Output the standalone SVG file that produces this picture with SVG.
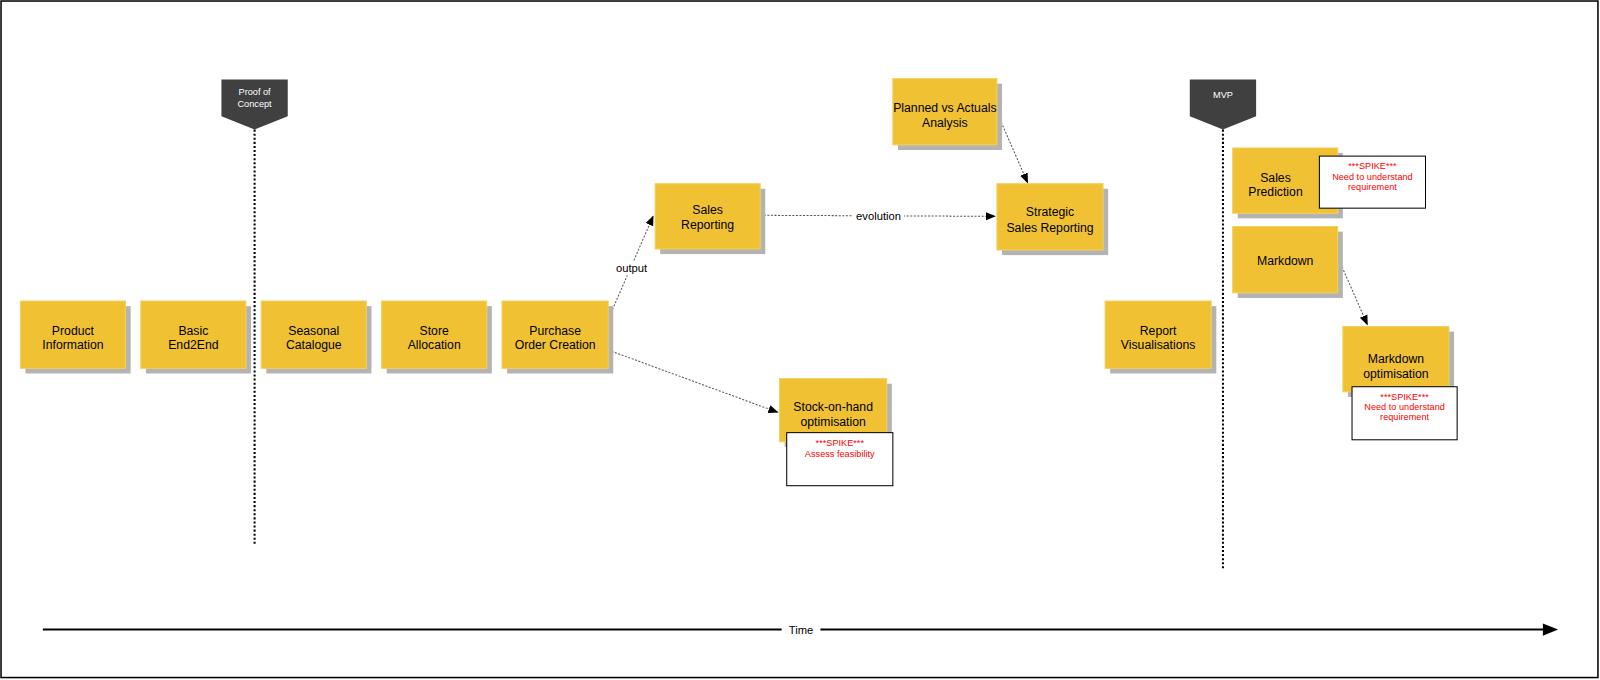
<svg xmlns="http://www.w3.org/2000/svg" width="1600" height="680" viewBox="0 0 1600 680">
<defs>
<marker id="ah" markerWidth="10" markerHeight="10" refX="9" refY="5" orient="auto" markerUnits="userSpaceOnUse"><path d="M0,1 L10,5 L0,9 Z" fill="#000"/></marker>
<style>
.n{fill:#F0C233;stroke:#F5D060;stroke-width:1}
.sh{fill:#B3B3B3}
.t{font-family:"Liberation Sans",Arial,sans-serif;font-size:12px;fill:#000;text-anchor:middle}
.s{font-family:"Liberation Sans",Arial,sans-serif;font-size:9px;fill:#FF0000;text-anchor:middle}
.sp{fill:#fff;stroke:#000;stroke-width:1}
.c{fill:none;stroke:#555;stroke-width:1;stroke-dasharray:2,1.5;marker-end:url(#ah)}
.ms{fill:#404040}
.mt{font-family:"Liberation Sans",Arial,sans-serif;font-size:9px;fill:#fff;text-anchor:middle}
.dl{stroke:#000;stroke-width:2;stroke-dasharray:2,2}
.lb{font-family:"Liberation Sans",Arial,sans-serif;font-size:11px;fill:#000;text-anchor:middle}
</style>
</defs>
<rect x="0" y="0" width="1600" height="680" fill="#fff"/>
<g transform="scale(1.0204)">
<rect x="1" y="1" width="1565" height="663" fill="none" stroke="#000" stroke-width="1.5"/>
<g id="poc"><path class="ms" d="M217,78 H282 V114 L249.5,127 L217,114 Z"/><text class="mt" x="249.5" y="93">Proof of</text><text class="mt" x="249.5" y="105">Concept</text><line class="dl" x1="249.5" y1="127" x2="249.5" y2="535"/></g>
<g id="mvp"><path class="ms" d="M1166,78 H1231 V114 L1198.5,127 L1166,114 Z"/><text class="mt" x="1198.5" y="96">MVP</text><line class="dl" x1="1198.5" y1="127" x2="1198.5" y2="557"/></g>
<g id="time"><line x1="42" y1="617" x2="1515" y2="617" stroke="#000" stroke-width="2"/><path d="M1512,611 L1527,617 L1512,623 Z" fill="#000"/><rect x="766" y="609" width="38" height="16" fill="#fff"/><text class="lb" x="785" y="621">Time</text></g>
<g id="connectors">
<path class="c" d="M596,313 L640,212"/>
<path class="c" d="M596,343 L762,404"/>
<path class="c" d="M745,211 L975,212"/>
<path class="c" d="M977,110 L1007,179"/>
<path class="c" d="M1311,252 L1340,318"/>
<rect x="602" y="256" width="34" height="14" fill="#fff"/><text class="lb" x="619" y="267">output</text>
<rect x="836" y="205" width="50" height="14" fill="#fff"/><text class="lb" x="861" y="216">evolution</text>
</g>
<g id="product"><rect class="sh" x="25" y="300" width="103" height="66"/><rect class="n" x="20" y="295" width="103" height="66"/><text class="t" x="71.5" y="328">Product</text><text class="t" x="71.5" y="342">Information</text></g>
<g id="basic"><rect class="sh" x="143" y="300" width="103" height="66"/><rect class="n" x="138" y="295" width="103" height="66"/><text class="t" x="189.5" y="328">Basic</text><text class="t" x="189.5" y="342">End2End</text></g>
<g id="seasonal"><rect class="sh" x="261" y="300" width="103" height="66"/><rect class="n" x="256" y="295" width="103" height="66"/><text class="t" x="307.5" y="328">Seasonal</text><text class="t" x="307.5" y="342">Catalogue</text></g>
<g id="store"><rect class="sh" x="379" y="300" width="103" height="66"/><rect class="n" x="374" y="295" width="103" height="66"/><text class="t" x="425.5" y="328">Store</text><text class="t" x="425.5" y="342">Allocation</text></g>
<g id="purchase"><rect class="sh" x="497" y="300" width="104" height="66"/><rect class="n" x="492" y="295" width="104" height="66"/><text class="t" x="544" y="328">Purchase</text><text class="t" x="544" y="342">Order Creation</text></g>
<g id="salesrep"><rect class="sh" x="647" y="185" width="103" height="64"/><rect class="n" x="642" y="180" width="103" height="64"/><text class="t" x="693.5" y="210">Sales</text><text class="t" x="693.5" y="224">Reporting</text></g>
<g id="planned"><rect class="sh" x="880" y="82" width="102" height="65"/><rect class="n" x="875" y="77" width="102" height="65"/><text class="t" x="926" y="110">Planned vs Actuals</text><text class="t" x="926" y="124">Analysis</text></g>
<g id="strategic"><rect class="sh" x="982" y="185" width="104" height="65"/><rect class="n" x="977" y="180" width="104" height="65"/><text class="t" x="1029" y="212">Strategic</text><text class="t" x="1029" y="227">Sales Reporting</text></g>
<g id="stock"><rect class="sh" x="769" y="376" width="105" height="62"/><rect class="n" x="764" y="371" width="105" height="62"/><text class="t" x="816.5" y="403">Stock-on-hand</text><text class="t" x="816.5" y="417">optimisation</text><rect class="sp" x="771" y="424" width="104" height="52"/><text class="s" x="823" y="437">***SPIKE***</text><text class="s" x="823" y="448">Assess feasibility</text></g>
<g id="report"><rect class="sh" x="1088" y="300" width="104" height="66"/><rect class="n" x="1083" y="295" width="104" height="66"/><text class="t" x="1135" y="328">Report</text><text class="t" x="1135" y="342">Visualisations</text></g>
<g id="salespred"><rect class="sh" x="1213" y="150" width="103" height="64"/><rect class="n" x="1208" y="145" width="103" height="64"/><text class="t" x="1250" y="178">Sales</text><text class="t" x="1250" y="192">Prediction</text><rect class="sp" x="1293" y="153" width="104" height="51"/><text class="s" x="1345" y="166">***SPIKE***</text><text class="s" x="1345" y="176">Need to understand</text><text class="s" x="1345" y="186">requirement</text></g>
<g id="markdown"><rect class="sh" x="1213" y="227" width="103" height="65"/><rect class="n" x="1208" y="222" width="103" height="65"/><text class="t" x="1259.5" y="260">Markdown</text></g>
<g id="mdopt"><rect class="sh" x="1321" y="325" width="104" height="64"/><rect class="n" x="1316" y="320" width="104" height="64"/><text class="t" x="1368" y="356">Markdown</text><text class="t" x="1368" y="370">optimisation</text><rect class="sp" x="1325" y="379" width="103" height="52"/><text class="s" x="1376.5" y="392">***SPIKE***</text><text class="s" x="1376.5" y="402">Need to understand</text><text class="s" x="1376.5" y="412">requirement</text></g>
</g>
</svg>
